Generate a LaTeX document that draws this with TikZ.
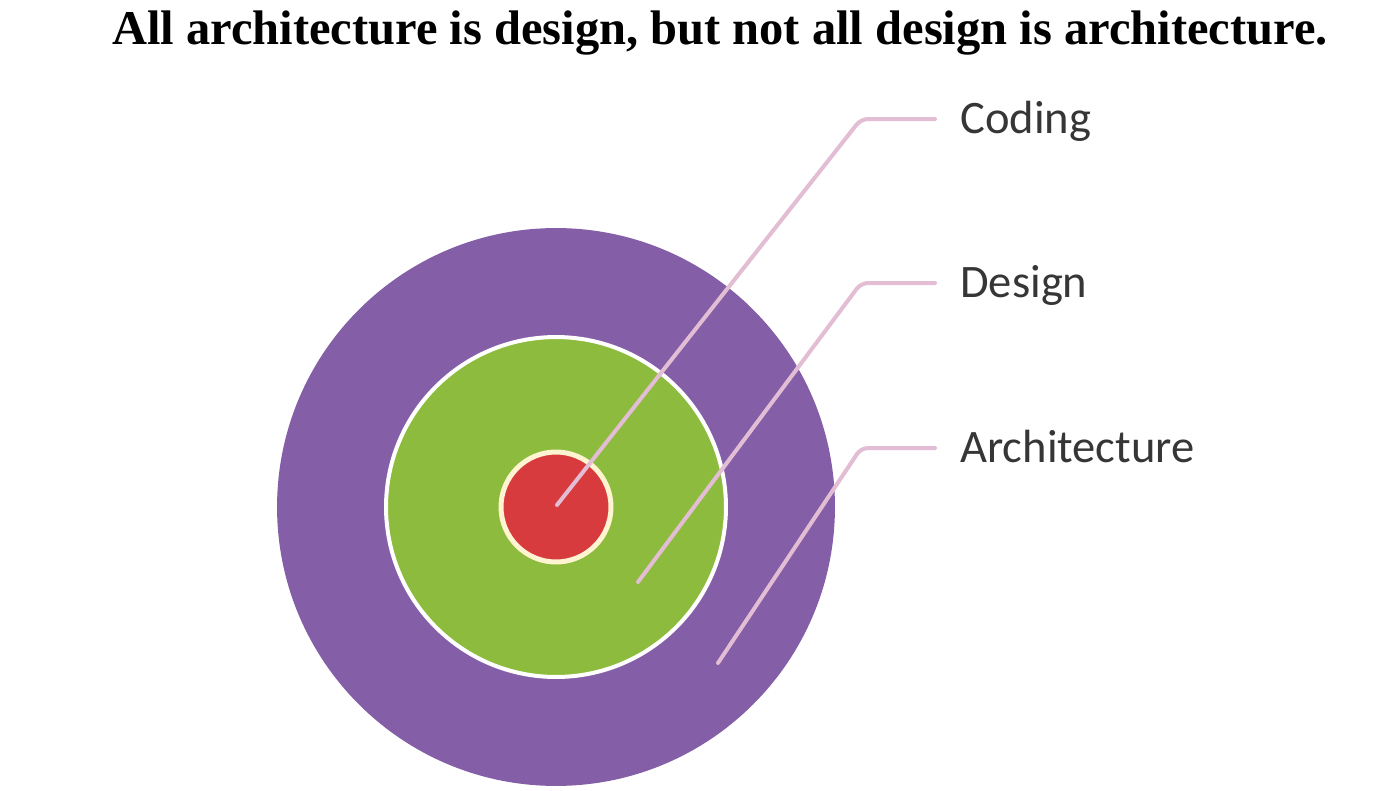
\documentclass[tikz,border=0pt]{standalone}
\usepackage{fontspec}
\setmainfont{Liberation Serif}
\newfontfamily\lblfont{Carlito}
\usepackage{xcolor}
\usetikzlibrary{positioning,calc}

\definecolor{ringpurple}{HTML}{845FA8}
\definecolor{ringgreen}{HTML}{8DBB3D}
\definecolor{dotred}{HTML}{D83B3D}
\definecolor{dotrim}{HTML}{FFF4D2}
\definecolor{leaderpink}{HTML}{E2BDD3}
\definecolor{lbltext}{HTML}{363636}

\tikzset{
  ring/.style={circle, inner sep=0pt, outer sep=0pt},
  lbl/.style={anchor=west, font=\lblfont\fontsize{26.5}{30}\selectfont, text=lbltext,
    inner xsep=0.5cm, inner ysep=0pt, text height=17pt, text depth=0pt},
  leader/.style={draw=leaderpink, line width=0.08cm, rounded corners=4pt, line cap=round}
}

\begin{document}
\begin{tikzpicture}[x=0.02cm, y=-0.02cm]
    \useasboundingbox[fill=white] (0,0) rectangle (1400,791);
    \node[anchor=base, font=\bfseries\fontsize{27.6}{31}\selectfont, inner sep=0pt] (title) at (720,44)
        {All architecture is design, but not all design is architecture.};
    % the three rings
    \node[ring, fill=ringpurple, minimum size=11.16cm] (archring) at (556,507) {};
    \node[ring, fill=ringgreen, draw=white, line width=0.08cm, minimum size=6.8cm] (designring) at (556,507) {};
    \node[ring, fill=dotred, draw=dotrim, line width=0.1cm, minimum size=2.2cm] (codingdot) at (556,507) {};
    % labels and leaders
    \foreach \name/\txt/\sx/\sy/\ey in {coding/Coding/557/505/119,design/Design/638/582/283,arch/Architecture/718/663/448}{
        \node[lbl] (\name) at (935,\ey) {\txt};
        \coordinate (\name-in) at (\sx,\sy);
        \coordinate (\name-bend) at (861,\ey);
        \draw[leader] (\name-in) -- (\name-bend) -- (\name.west);
    }
\end{tikzpicture}
\end{document}
